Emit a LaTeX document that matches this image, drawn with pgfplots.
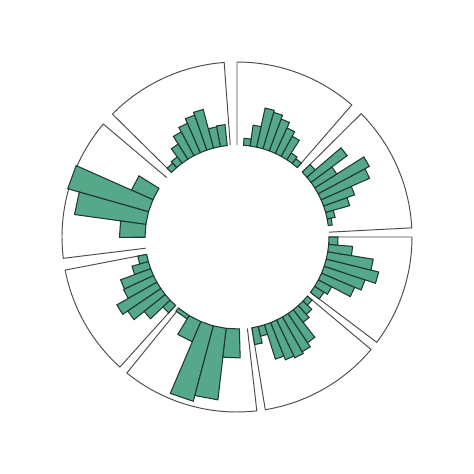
\documentclass[border=0pt]{standalone}
\usepackage{pgfplots}
\pgfplotsset{compat=1.18}
\usepgfplotslibrary{polar}

\definecolor{barfill}{HTML}{55A88A}
\definecolor{baredge}{HTML}{1E3A30}
\definecolor{framecol}{HTML}{4D4D4D}

\newcommand\rin{92}
\newcommand\rout{175}

\pgfplotsset{
  hbar/.style={fill=barfill, draw=baredge, line width=0.6pt,
    y filter/.expression={y+92}},
}

% one histogram sector: start angle, bin width, bar lengths (ccw order)
\newcommand\sector[3]{%
  \foreach \h [count=\i from 0] in {#3} {%
    \pgfmathsetmacro\ta{#1+\i*#2}%
    \pgfmathsetmacro\tb{#1+(\i+1)*#2}%
    \pgfmathparse{\h>0}%
    \ifnum\pgfmathresult=1
      \edef\tmp{\noexpand\addplot[hbar] coordinates {(\ta,0) (\ta,\h) (\tb,\h) (\tb,0)} -- cycle;}%
      \tmp
    \fi
  }%
}

% outline of a sector: start angle, end angle
\newcommand\sectorframe[2]{%
  \draw[framecol, line width=0.55pt] (axis cs:#1,\rin) -- (axis cs:#1,\rout)
    arc[start angle=#1, end angle=#2, radius=3.5cm] -- (axis cs:#2,\rin);
}

\begin{document}
\begin{tikzpicture}
\begin{polaraxis}[
  hide axis,
  scale only axis,
  width=9.48cm, height=9.48cm,
  xmin=0, xmax=360,
  ymin=0, ymax=237,
  clip=false,
]
  % keep the full square as picture
  \addplot[draw=none] coordinates {(0,237) (90,237) (180,237) (270,237)};

  \sectorframe{49}{90}
  \sectorframe{3}{44.8}
  \sectorframe{323}{360}
  \sectorframe{279.3}{320}
  \sectorframe{231}{276.5}
  \sectorframe{190.9}{228}
  \sectorframe{139.8}{187}
  \sectorframe{94.2}{135.4}

  \sector{49}{4.1}{6,8,23,28,34,38,40,21,7,0}
  \sector{3}{4.18}{0,4,8,25,33,53,58,26,45,11}
  \sector{323}{4.625}{11,15,36,43,54,46,24,9}
  \sector{279.3}{4.07}{17,10,36,40,42,40,35,16,12,6}
  \sector{230.5}{8.2}{4,22,78,72,29}
  \sector{190.9}{4.64}{9,17,32,33,46,40,27,10}
  \sector{140}{8.03}{0,23.5,84,72,25.5}
  \sector{96.1}{4.37}{21,20,40,37,32,27,18,8,6}
\end{polaraxis}
\end{tikzpicture}
\end{document}
